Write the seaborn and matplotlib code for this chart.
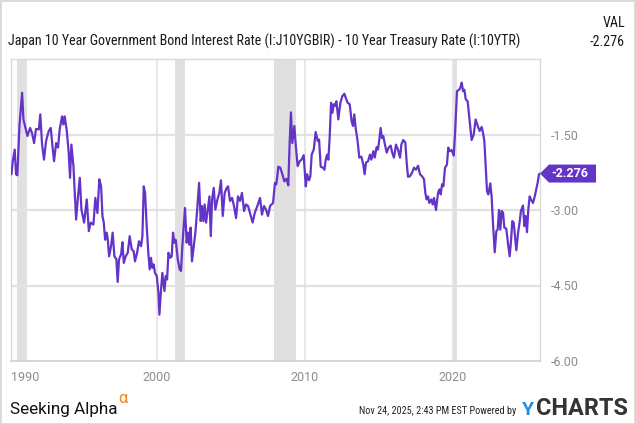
import matplotlib
matplotlib.use("Agg")
import matplotlib.pyplot as plt
import seaborn as sns
import pandas as pd
from matplotlib import font_manager
from matplotlib.patches import Polygon, Rectangle

# ---------------- data ----------------
years = [
    1990.16, 1990.25, 1990.38, 1990.47, 1990.56, 1990.70, 1990.88, 1990.97, 1991.11, 1991.24,
    1991.42, 1991.55, 1991.69, 1991.82, 1992.01, 1992.11, 1992.23, 1992.36, 1992.50, 1992.68,
    1992.82, 1992.91, 1993.04, 1993.18, 1993.31, 1993.42, 1993.58, 1993.67, 1993.76, 1993.90,
    1994.03, 1994.12, 1994.21, 1994.35, 1994.53, 1994.66, 1994.78, 1994.89, 1995.07, 1995.25,
    1995.39, 1995.52, 1995.70, 1995.83, 1995.97, 1996.10, 1996.22, 1996.31, 1996.40, 1996.49,
    1996.60, 1996.67, 1996.76, 1996.89, 1997.00, 1997.12, 1997.25, 1997.34, 1997.43, 1997.57,
    1997.66, 1997.75, 1997.88, 1998.02, 1998.15, 1998.29, 1998.42, 1998.51, 1998.65, 1998.78,
    1998.92, 1999.01, 1999.10, 1999.19, 1999.30, 1999.41, 1999.50, 1999.59, 1999.68, 1999.77,
    1999.86, 1999.98, 2000.09, 2000.16, 2000.27, 2000.36, 2000.50, 2000.59, 2000.68, 2000.77,
    2000.90, 2000.99, 2001.08, 2001.17, 2001.26, 2001.40, 2001.53, 2001.62, 2001.71, 2001.80,
    2001.89, 2002.00, 2002.09, 2002.18, 2002.27, 2002.36, 2002.48, 2002.59, 2002.73, 2002.84,
    2002.95, 2003.04, 2003.13, 2003.22, 2003.31, 2003.40, 2003.54, 2003.63, 2003.72, 2003.83,
    2003.94, 2004.08, 2004.21, 2004.32, 2004.44, 2004.57, 2004.71, 2004.80, 2004.93, 2005.07,
    2005.20, 2005.34, 2005.47, 2005.61, 2005.74, 2005.88, 2006.01, 2006.15, 2006.28, 2006.46,
    2006.60, 2006.78, 2006.96, 2007.09, 2007.23, 2007.36, 2007.50, 2007.64, 2007.84, 2007.97,
    2008.06, 2008.20, 2008.33, 2008.47, 2008.60, 2008.74, 2008.87, 2008.96, 2009.05, 2009.14,
    2009.28, 2009.37, 2009.50, 2009.64, 2009.77, 2009.91, 2010.05, 2010.14, 2010.27, 2010.36,
    2010.45, 2010.59, 2010.72, 2010.86, 2010.95, 2011.06, 2011.22, 2011.31, 2011.40, 2011.49,
    2011.58, 2011.67, 2011.76, 2011.85, 2011.94, 2012.03, 2012.12, 2012.25, 2012.39, 2012.52,
    2012.66, 2012.75, 2012.88, 2013.02, 2013.15, 2013.24, 2013.33, 2013.42, 2013.54, 2013.67,
    2013.81, 2013.94, 2014.03, 2014.12, 2014.26, 2014.39, 2014.48, 2014.62, 2014.71, 2014.84,
    2014.93, 2015.02, 2015.11, 2015.20, 2015.29, 2015.38, 2015.52, 2015.65, 2015.79, 2015.88,
    2016.01, 2016.15, 2016.28, 2016.42, 2016.51, 2016.64, 2016.78, 2016.87, 2016.96, 2017.09,
    2017.23, 2017.36, 2017.50, 2017.64, 2017.77, 2017.91, 2018.04, 2018.13, 2018.22, 2018.31,
    2018.40, 2018.54, 2018.63, 2018.72, 2018.85, 2018.99, 2019.08, 2019.17, 2019.26, 2019.35,
    2019.46, 2019.59, 2019.68, 2019.77, 2019.91, 2020.05, 2020.14, 2020.27, 2020.41, 2020.50,
    2020.59, 2020.68, 2020.77, 2020.86, 2020.99, 2021.08, 2021.17, 2021.26, 2021.40, 2021.53,
    2021.67, 2021.80, 2021.94, 2022.03, 2022.12, 2022.21, 2022.30, 2022.39, 2022.52, 2022.61,
    2022.70, 2022.82, 2022.93, 2023.02, 2023.11, 2023.20, 2023.29, 2023.38, 2023.47, 2023.60,
    2023.74, 2023.83, 2023.92, 2024.01, 2024.10, 2024.19, 2024.28, 2024.40, 2024.50, 2024.59,
    2024.73, 2024.82, 2024.91, 2025.00, 2025.09, 2025.18, 2025.27, 2025.41, 2025.54, 2025.63,
    2025.72, 2025.81, 2025.88,
]
spread = [
    -2.29, -2.03, -1.80, -2.29, -2.31, -1.33, -0.67, -1.20, -1.37, -1.53,
    -1.37, -1.47, -1.67, -1.39, -1.40, -1.10, -1.70, -2.00, -1.63, -1.43,
    -1.37, -1.67, -2.03, -1.67, -1.76, -1.40, -1.14, -1.30, -1.14, -1.43,
    -1.86, -2.36, -1.70, -2.13, -3.19, -2.73, -2.36, -2.99, -3.25, -2.79,
    -3.42, -3.25, -3.29, -2.76, -3.06, -2.39, -2.53, -3.12, -3.25, -3.59,
    -3.45, -3.59, -3.92, -3.72, -3.45, -3.92, -3.98, -4.43, -3.98, -3.88,
    -3.64, -4.05, -3.92, -3.85, -3.52, -3.78, -3.82, -4.02, -3.85, -3.62,
    -3.72, -3.52, -2.53, -2.66, -3.32, -3.85, -4.18, -3.95, -4.15, -4.08,
    -4.25, -4.31, -4.64, -5.08, -4.58, -4.25, -4.61, -4.31, -4.38, -3.85,
    -3.95, -3.92, -3.45, -3.65, -3.59, -3.98, -4.18, -4.21, -3.72, -3.32,
    -2.96, -3.65, -3.45, -3.69, -3.35, -4.02, -3.72, -3.45, -2.92, -2.46,
    -3.22, -2.92, -3.22, -2.89, -3.25, -3.06, -2.73, -3.52, -2.79, -2.56,
    -2.99, -2.79, -2.66, -2.41, -3.12, -2.66, -2.56, -2.53, -2.82, -2.76,
    -2.92, -3.16, -2.73, -2.82, -2.66, -3.02, -2.89, -2.92, -3.06, -3.25,
    -3.06, -2.92, -2.76, -3.09, -2.92, -2.99, -3.12, -2.92, -2.86, -2.46,
    -2.49, -2.14, -2.16, -2.29, -2.43, -2.38, -2.51, -1.67, -1.06, -1.67,
    -1.33, -1.70, -2.13, -2.03, -2.00, -1.91, -2.53, -2.29, -2.41, -2.33,
    -1.90, -1.80, -1.45, -1.63, -1.60, -2.14, -2.16, -2.20, -2.00, -1.90,
    -2.00, -1.53, -0.87, -1.07, -0.90, -0.93, -0.84, -1.20, -0.87, -0.74,
    -0.69, -0.77, -0.87, -0.90, -1.24, -1.33, -1.10, -1.37, -1.60, -1.96,
    -1.94, -2.10, -2.29, -2.06, -2.03, -1.90, -2.00, -1.83, -1.96, -1.75,
    -1.80, -1.60, -1.37, -1.57, -1.53, -1.67, -1.86, -1.76, -1.72, -1.85,
    -1.96, -1.70, -1.80, -1.96, -1.70, -1.61, -1.66, -2.06, -2.34, -2.33,
    -2.26, -2.16, -2.20, -2.12, -2.29, -2.33, -2.39, -2.66, -2.79, -2.73,
    -2.86, -2.79, -2.89, -2.76, -3.00, -2.66, -2.59, -2.69, -2.49, -2.53,
    -2.16, -2.10, -1.76, -1.83, -1.81, -1.92, -1.47, -0.64, -0.61, -0.57,
    -0.47, -0.64, -0.61, -0.80, -0.84, -1.10, -1.37, -1.61, -1.50, -1.20,
    -1.33, -1.43, -1.35, -1.47, -1.63, -2.13, -2.63, -2.69, -2.47, -2.73,
    -3.25, -3.84, -3.42, -3.39, -3.00, -3.39, -3.02, -3.05, -3.35, -3.37,
    -3.72, -3.92, -3.62, -3.22, -3.25, -3.52, -3.80, -3.45, -3.25, -3.02,
    -2.91, -3.32, -3.12, -3.44, -2.99, -2.73, -2.79, -2.86, -2.71, -2.59,
    -2.46, -2.29, -2.276,
]
recessions = [(1990.55, 1991.20), (2001.22, 2001.88), (2007.93, 2009.40), (2020.05, 2020.28)]
y_ticks = [-6.0, -4.5, -3.0, -1.5]
x_ticks = [2000, 2010, 2020]
x_tick_labels = ["1990", "2000", "2010", "2020"]
title_text = "Japan 10 Year Government Bond Interest Rate (I:J10YGBIR) - 10 Year Treasury Rate (I:10YTR)"
footer_text = "Nov 24, 2025, 2:43 PM EST Powered by"

# ---------------- style / fonts ----------------
sns.set_style("white")
_entries = font_manager.fontManager.ttflist
_names = {f.name for f in _entries}


def pick(*cands):
    for c in cands:
        if c in _names:
            return c
    return "DejaVu Sans"


BASE = pick("Roboto", "Liberation Sans", "DejaVu Sans")

# look for any condensed / narrow face that is installed
NARROW, NSTRETCH = None, "normal"
for pref in ("Roboto Condensed", "Liberation Sans Narrow", "Open Sans Condensed",
             "Noto Sans Condensed"):
    if pref in _names:
        NARROW = pref
        break
if NARROW is None:
    for f in _entries:
        st = str(f.stretch).lower()
        if st in ("condensed", "semi-condensed", "extra-condensed") and "Mono" not in f.name \
                and "Serif" not in f.name and f.style == "normal":
            NARROW, NSTRETCH = f.name, st
            break
if NARROW is None:
    NARROW = BASE

plt.rcParams["font.family"] = [BASE, "DejaVu Sans"]

PURPLE = "#6434C9"
GRID = "#e2e2e2"
TICK = "#8c8c8c"

W, H = 635, 424
fig = plt.figure(figsize=(W / 100, H / 100), dpi=100)
L, R, T, B = 11, 540, 59, 361
ax = fig.add_axes([L / W, 1 - B / H, (R - L) / W, (B - T) / H])

df = pd.DataFrame({"year": years, "spread": spread})
x0, x1 = 1990.13, 2025.88
ax.set_xlim(x0, x1)
ax.set_ylim(-6, 0)

for a, b in recessions:
    ax.axvspan(a, b, color="#e0e0e0", lw=0, zorder=0.6)

sns.lineplot(data=df, x="year", y="spread", ax=ax, color=PURPLE, lw=1.6,
             zorder=3, sort=False, estimator=None)
ax.set_xlabel("")
ax.set_ylabel("")

# grid lines
ax.grid(False)
for yt in y_ticks[1:]:
    ax.axhline(yt, color=GRID, lw=1.6, zorder=0.7)
for xt in x_ticks:
    ax.axvline(xt, color="#e0e0e0", lw=1.1, zorder=0.7)

# ticks
ax.set_xticks([x0] + x_ticks)
ax.set_xticklabels(x_tick_labels)
ax.xaxis.get_majorticklabels()[0].set_horizontalalignment("left")
ax.yaxis.tick_right()
ax.set_yticks(y_ticks)
ax.set_yticklabels([f"{v:.2f}" for v in y_ticks])
ax.tick_params(axis="both", length=0, labelsize=9, labelcolor=TICK)
ax.tick_params(axis="y", pad=7.5)
ax.tick_params(axis="x", pad=7)

for s in ["left", "top", "right"]:
    ax.spines[s].set_color("#d9d9d9")
    ax.spines[s].set_linewidth(1.0)
ax.spines["bottom"].set_color("#cfcfcf")
ax.spines["bottom"].set_linewidth(1.2)

# last value tag
last = spread[-1]
px = 1.0 / (R - L)
py = 6.0 / (B - T)
hh = 9 * py
tf = ax.get_yaxis_transform()
tag = Polygon([(1.0, last), (1 + 9 * px, last + hh), (1 + 56 * px, last + hh),
               (1 + 56 * px, last - hh), (1 + 9 * px, last - hh)],
              closed=True, transform=tf, facecolor=PURPLE, edgecolor="none",
              clip_on=False, zorder=5)
ax.add_patch(tag)
ax.text(1 + 11 * px, last, f"{last:.3f}", transform=tf, ha="left", va="center",
        color="white", fontsize=9, fontweight="bold", clip_on=False, zorder=6)

# ---------------- header / footer texts ----------------
renderer = fig.canvas.get_renderer()


def fit(t, target_w):
    w = t.get_window_extent(renderer).width
    if w > 0:
        t.set_fontsize(t.get_fontsize() * target_w / w)


nfont = dict(family=[NARROW, "DejaVu Sans"], fontstretch=NSTRETCH)
title = fig.text(8 / W, 1 - 46 / H, title_text, ha="left", va="baseline",
                 fontsize=11, color="#1a1a1a", **nfont)
fit(title, 513)
fs = title.get_fontsize()
fig.text(625 / W, 1 - 27 / H, "VAL", ha="right", va="baseline", fontsize=fs,
         color="#1a1a1a", **nfont)
fig.text(625 / W, 1 - 46 / H, f"{last:.3f}", ha="right", va="baseline", fontsize=fs,
         color="#1a1a1a", **nfont)

sa = fig.text(10 / W, 1 - 414 / H, "Seeking Alpha", ha="left", va="baseline",
              fontsize=13, color="#111111", family=[BASE, "DejaVu Sans"])
fit(sa, 108)
fig.text(118 / W, 1 - 403 / H, "α", ha="left", va="baseline", fontsize=12,
         color="#f5841f", family=[BASE, "DejaVu Sans"])

ft = fig.text(359 / W, 1 - 414 / H, footer_text, ha="left", va="baseline",
              fontsize=8.5, color="#222222", **nfont)
fit(ft, 157)

y_t = fig.text(522 / W, 1 - 415 / H, "Y", ha="left", va="baseline", fontsize=14,
               color="#1e90e8", fontweight="bold", family=[BASE, "DejaVu Sans"])
yw = y_t.get_window_extent(renderer).width
ch = fig.text((522 + yw + 2) / W, 1 - 415 / H, "CHARTS", ha="left", va="baseline",
              fontsize=14, color="#333333", fontweight="bold",
              family=[BASE, "DejaVu Sans"])
fit(ch, 628 - 524 - yw)

# outer frame
fig.patches.append(Rectangle((0, 0), 1, 1, transform=fig.transFigure, fill=False,
                             edgecolor="#d9d9d9", lw=2, zorder=10))

fig.savefig("out.png", dpi=100)
